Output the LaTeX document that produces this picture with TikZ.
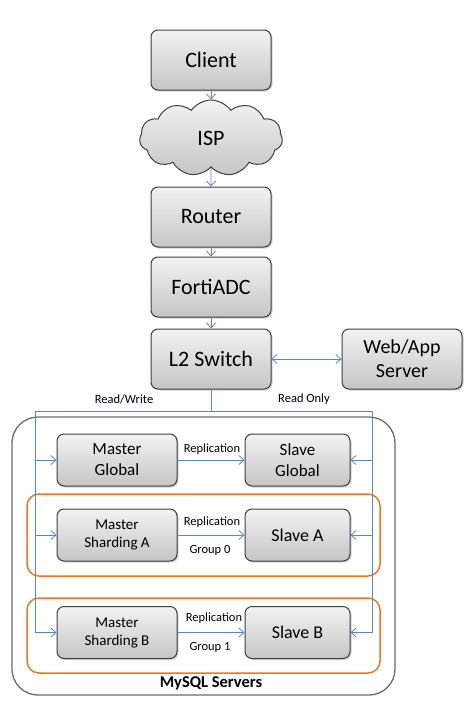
\documentclass[tikz,border=0pt]{standalone}
\usepackage{fontspec}
\setmainfont{Carlito}
\usetikzlibrary{arrows.meta,shapes.symbols,shadows}
\definecolor{linkblue}{HTML}{5B86C6}
\definecolor{grouporange}{HTML}{E8782A}
\definecolor{boxedge}{HTML}{3F3F3F}
\tikzset{
  devbox/.style={draw=boxedge, line width=1pt, rounded corners=7pt, top color=gray!10, bottom color=gray!45,
    drop shadow={shadow xshift=1.5pt, shadow yshift=-1.5pt, opacity=0.35}, align=center, inner sep=0pt},
  bigbox/.style={devbox, minimum width=120pt, minimum height=60pt, font=\fontsize{22}{24}\selectfont},
  dbbox/.style={devbox, minimum height=52pt, font=\fontsize{15}{18}\selectfont},
  link/.style={draw=linkblue, line width=0.8pt},
  tolink/.style={link, -{Straight Barb[length=5pt,width=9pt]}},
  tag/.style={font=\fontsize{12.5}{14}\selectfont, inner sep=0pt},
}
\begin{document}
\begin{tikzpicture}[x=1pt, y=-1pt]
            \useasboundingbox (0,0) rectangle (474,720);
            \draw[draw=gray!85!black, line width=1.3pt, rounded corners=26pt] (12,417) rectangle (395,695);
            \draw[draw=grouporange, line width=1.5pt, rounded corners=12pt] (27,494) rectangle (380,576);
            \draw[draw=grouporange, line width=1.5pt, rounded corners=12pt] (27,598) rectangle (380,673);
            \node[bigbox] (client) at (211,60) {Client};
            \node[cloud, cloud puffs=11, cloud puff arc=110, aspect=1.9, draw=boxedge, line width=1pt, top color=gray!10, bottom color=gray!45,
              minimum width=143pt, minimum height=76pt, inner sep=0pt, font=\fontsize{22}{24}\selectfont] (isp) at (211,138) {ISP};
            \node[bigbox] (router) at (211,217) {Router};
            \node[bigbox] (adc) at (211,287) {FortiADC};
            \node[bigbox] (switch) at (211,359) {L2 Switch};
            \node[bigbox, font=\fontsize{20}{24}\selectfont] (web) at (402,359) {Web/App\\Server};
            \node[dbbox, minimum width=120pt, font=\fontsize{17}{21}\selectfont] (mglobal) at (117,460) {Master\\Global};
            \node[dbbox, minimum width=105pt, font=\fontsize{17}{21}\selectfont] (sglobal) at (297.5,460) {Slave\\Global};
            \node[dbbox, minimum width=120pt] (masta) at (117,535) {Master\\Sharding A};
            \node[dbbox, minimum width=105pt, font=\fontsize{18}{21}\selectfont] (slava) at (297.5,535) {Slave A};
            \node[dbbox, minimum width=120pt] (mastb) at (117,632.5) {Master\\Sharding B};
            \node[dbbox, minimum width=105pt, font=\fontsize{18}{21}\selectfont] (slavb) at (297.5,632.5) {Slave B};
            \coordinate (bus) at (211,411);
            \coordinate (busL) at (35,411);
            \coordinate (busR) at (372,411);
            \draw[tolink] (client) -- (isp);
            \draw[tolink] (isp) -- (router);
            \draw[tolink] (router) -- (adc);
            \draw[tolink] (adc) -- (switch);
            \draw[tolink, {Straight Barb[length=5pt,width=9pt]}-{Straight Barb[length=5pt,width=9pt]}] (switch) -- (web);
            \draw[link] (switch) -- (bus);
            \draw[link] (busL) -- (busR);
            \draw[tolink] (busL) |- (mglobal.west);
            \draw[tolink] (busL) |- (masta.west);
            \draw[tolink] (busL) |- (mastb.west);
            \draw[tolink] (busR) |- (sglobal.east);
            \draw[tolink] (busR) |- (slava.east);
            \draw[tolink] (busR) |- (slavb.east);
            \draw[tolink] (mglobal) -- (sglobal);
            \draw[tolink] (masta) -- (slava);
            \draw[tolink] (mastb) -- (slavb);
            \node[tag] (rw) at (124,399) {Read/Write};
            \node[tag] (ro) at (304,399) {Read Only};
            \node[tag] (rep0) at (212,449) {Replication};
            \node[tag] (repa) at (212,522) {Replication};
            \node[tag] (grpa) at (210,550) {Group 0};
            \node[tag] (repb) at (214,618) {Replication};
            \node[tag] (grpb) at (210,647) {Group 1};
            \node[font=\bfseries\fontsize{16.5}{18}\selectfont, inner sep=0pt] (mysql) at (211,683) {MySQL Servers};
      \end{tikzpicture}
\end{document}
